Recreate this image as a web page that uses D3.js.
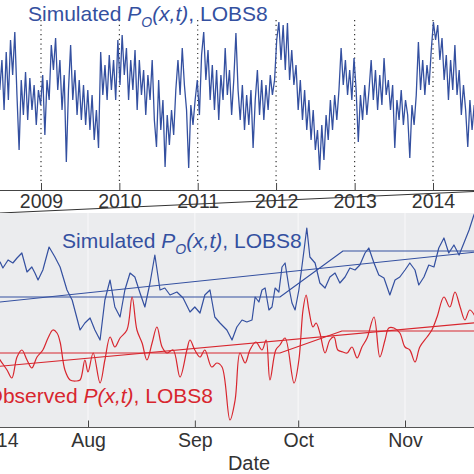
<!DOCTYPE html>
<html><head><meta charset="utf-8">
<script src="https://cdn.jsdelivr.net/npm/d3@7"></script>
<style>html,body{margin:0;padding:0;background:#fff;overflow:hidden}svg{display:block;font-family:"Liberation Sans",Arial,Helvetica,sans-serif}</style>
</head><body><svg id="c" width="474" height="474"></svg>
<script>
// ---------- top panel data (simulated P_O, ~10-day samples) ----------
const topStart = "2008-06-23";
const topStepDays = 10;
const topValues = [100,130,80,138,90,150,115,158,95,40,
110,75,118,70,112,80,105,65,100,85,
115,55,110,90,145,120,152,100,130,80,
115,28,100,145,90,120,75,110,70,105,
65,100,60,95,50,80,42,138,95,125,
90,135,100,130,90,150,105,155,115,142,
90,130,100,140,80,130,95,120,75,115,
90,130,70,43,110,60,90,23,75,45,
80,55,100,130,95,142,105,80,22,85,
65,90,110,75,135,158,110,140,90,125,
80,120,70,115,90,142,95,120,75,110,
157,100,70,105,60,95,65,100,42,90,
120,75,110,70,105,80,115,95,110,150,
168,130,165,120,167,110,140,105,125,80,
110,70,100,60,90,50,80,40,60,20,
65,30,75,50,90,60,95,70,100,142,
105,130,95,120,90,132,100,48,95,70,
105,75,100,130,90,120,80,115,85,132,
95,110,80,105,42,90,70,100,65,90,
75,32,85,65,95,148,100,130,95,125,
105,140,168,150,165,130,152,110,135,90,
130,100,145,95,120,75,105,80,43,90,
60,85];
const yearTicks = [2009,2010,2011,2012,2013,2014];

// ---------- bottom panel data (days since 2014-07-01) ----------
const monthTicks = ["2014-07-01","2014-08-01","2014-09-01","2014-10-01","2014-11-01"];
const monthLabels = ["Jul 2014","Aug","Sep","Oct","Nov"];
const blueDays = [4.5,5.5,6.3,7.8,9.2,10.4,11.8,13.3,14.7,15.6,16.5,17.9,19.7,21.4,22.9,24.9,26.4,28.7,30.1,31.6,33.0,34.5,35.9,37.4,38.8,40.3,41.7,43.2,44.6,46.1,47.5,49.0,50.4,51.9,53.3,54.8,56.8,58.6,60.6,62.0,63.5,64.9,66.4,67.8,69.3,71.3,72.8,74.2,75.7,77.1,78.6,79.5,80.6,81.5,82.4,83.5,84.4,85.3,86.4,87.3,88.2,89.3,90.2,91.1,92.2,93.7,94.5,95.4,96.9,98.3,99.8,101.2,102.7,104.1,105.6,107.0,108.5,109.9,111.4,112.5,114.0,115.4,116.9,118.6,120.1,121.5,123.0,124.4,125.9,127.0,128.5,129.9,131.4,132.8,134.3,135.7,137.2,138.7,140.1,141.6,143.0,144.0];
const blueVals = [158,166,160,168,165,170,175,156,161,155,148,158,181,171,161,138,128,98,105,110,98,88,128,148,121,111,138,155,151,135,121,145,173,138,140,133,136,130,116,121,115,133,138,111,105,98,88,101,108,106,108,131,126,138,140,118,121,140,136,161,165,141,125,118,138,178,200,171,165,145,140,151,155,145,151,160,158,163,175,180,165,153,150,133,148,151,158,165,158,143,151,163,161,180,190,175,183,173,185,198,213,220];
const redDays = [4.6,5.5,7.5,8.9,10.4,11.8,13.3,14.7,16.2,17.9,19.4,20.8,22.0,22.9,24.3,25.8,27.5,28.7,30.1,31.0,32.5,34.5,35.9,37.4,38.8,40.3,42.3,43.8,45.2,46.7,48.1,49.6,51.0,52.5,53.9,55.7,57.7,59.7,60.6,62.0,63.5,64.9,66.9,68.4,69.9,72.2,73.7,75.1,76.6,78.0,79.7,81.5,82.7,83.8,85.5,86.7,88.2,90.8,92.2,93.4,94.3,95.1,96.3,97.2,98.3,99.8,101.2,102.4,103.5,105.0,106.2,107.6,109.1,110.5,112.0,114.0,115.7,117.2,118.3,119.8,121.5,123.0,124.4,125.9,127.3,129.4,130.8,132.3,134.3,136.0,137.5,139.0,140.4,141.8,143.6];
const redVals = [73,68,58,50,71,78,68,60,71,78,90,98,95,86,58,48,47,48,68,56,75,45,68,91,81,90,98,131,98,85,68,85,101,81,75,78,51,78,88,78,71,78,61,65,61,8,28,75,65,78,86,78,88,48,78,83,90,45,68,118,133,118,101,105,95,75,88,91,78,76,75,81,70,81,90,111,71,88,100,100,95,81,78,66,81,91,98,111,131,121,136,121,108,118,110];
const blueTrendDays = [0,152], blueTrendVals = [124,179];
const blueBreakDays = [0,86.7,105,152], blueBreakVals = [131,131,177,177];
const redTrendDays = [0,152], redTrendVals = [60,108];
const redBreakDays = [0,86.7,104.7,152], redBreakVals = [75,75,97,97];

// ---------- drawing ----------
const W = 474, H = 474;
const BLUE = "#3450a0", RED = "#d8262e", TXT = "#333";
const svg = d3.select("#c");
const parse = d3.timeParse("%Y-%m-%d");
const jul1 = parse("2014-07-01");
const dayToDate = d => new Date(jul1.getTime() + d * 864e5);

// top scales
const xTop = d3.scaleTime().domain([new Date(2009,0,1), new Date(2014,0,1)]).range([41, 433]);
const yTop = d3.scaleLinear().domain([0,170]).range([190,20]);
const t0 = parse(topStart);
const topData = topValues.map((v,i) => ({t: d3.timeDay.offset(t0, i*topStepDays), v}));

// dotted year lines
svg.append("g").selectAll("line").data(yearTicks).join("line")
  .attr("x1", d => xTop(new Date(d,0,1))).attr("x2", d => xTop(new Date(d,0,1)))
  .attr("y1", 20).attr("y2", 183)
  .attr("stroke", "#222").attr("stroke-width", 1.1).attr("stroke-dasharray", "1.2,3.5");

svg.append("defs").append("clipPath").attr("id","clipTop")
  .append("rect").attr("x",0).attr("y",0).attr("width",W).attr("height",190);
svg.append("path").datum(topData).attr("clip-path","url(#clipTop)")
  .attr("fill","none").attr("stroke", BLUE).attr("stroke-width", 1.3).attr("stroke-linejoin","miter")
  .attr("d", d3.line().x(d => xTop(d.t)).y(d => yTop(d.v)));

// top axis
const axTop = svg.append("g").attr("transform","translate(0,190)")
  .call(d3.axisBottom(xTop).tickValues(yearTicks.map(y => new Date(y,0,1)))
    .tickFormat(d3.timeFormat("%Y")).tickSize(-7).tickPadding(4));
axTop.select(".domain").remove();
axTop.selectAll(".tick line").attr("stroke","#444");
axTop.selectAll("text").attr("font-size","19.5px").attr("fill",TXT).attr("font-family","Liberation Sans, Arial, sans-serif");
svg.append("line").attr("x1",0).attr("x2",W).attr("y1",190.5).attr("y2",190.5).attr("stroke","#444").attr("stroke-width",1);

// title helper
function title(g, x, y, color, pre, sym, sub, post, anchor) {
  const t = g.append("text").attr("x", x).attr("y", y).attr("fill", color)
    .attr("font-size", "21px").attr("text-anchor", anchor || "start");
  t.append("tspan").text(pre);
  t.append("tspan").attr("font-style","italic").text(sym);
  if (sub) t.append("tspan").attr("font-style","italic").attr("font-size","14px").attr("dy", 6).text(sub);
  t.append("tspan").attr("font-style","italic").attr("dy", sub ? -6 : 0).text("(x,t)");
  t.append("tspan").text(post);
}
title(svg, 28, 21, BLUE, "Simulated ", "P", "O", ", LOBS8");

// zoom connector
svg.append("line").attr("x1",0).attr("y1",213).attr("x2",W).attr("y2",191.5)
  .attr("stroke","#333").attr("stroke-width",1);

// bottom panel
const xB = d3.scaleTime().domain([parse("2014-08-01"), parse("2014-11-01")]).range([88, 405]);
const yB = d3.scaleLinear().domain([0,215]).range([428,213]);
const gB = svg.append("g");
gB.append("rect").attr("x",0).attr("y",213).attr("width",W).attr("height",214.5).attr("fill","#ebecee");
gB.append("g").selectAll("line").data(monthTicks).join("line")
  .attr("x1", d => xB(parse(d))).attr("x2", d => xB(parse(d)))
  .attr("y1", 213).attr("y2", 427).attr("stroke","#f7f7f8").attr("stroke-width",1.2);

svg.select("defs").append("clipPath").attr("id","clipB")
  .append("rect").attr("x",0).attr("y",213).attr("width",W).attr("height",214.5);
const plotB = gB.append("g").attr("clip-path","url(#clipB)");
const ln = d3.line().x(d => xB(dayToDate(d[0]))).y(d => yB(d[1]));
function drawLine(days, vals, color, w, curve) {
  plotB.append("path").datum(d3.zip(days, vals)).attr("fill","none")
    .attr("stroke", color).attr("stroke-width", w).attr("stroke-linejoin","round")
    .attr("d", ln.curve(curve || d3.curveLinear));
}
drawLine(blueTrendDays, blueTrendVals, BLUE, 1.1);
drawLine(blueBreakDays, blueBreakVals, BLUE, 1.1);
drawLine(redTrendDays, redTrendVals, RED, 1.1);
drawLine(redBreakDays, redBreakVals, RED, 1.1);
drawLine(redDays, redVals, RED, 1.2, d3.curveCatmullRom.alpha(0.5));
drawLine(blueDays, blueVals, BLUE, 1.2);

title(svg, 62, 248, BLUE, "Simulated ", "P", "O", ", LOBS8");
title(svg, 213, 403, RED, "Observed ", "P", null, ", LOBS8", "end");

// bottom axis
const axB = svg.append("g").attr("transform","translate(0,427.5)")
  .call(d3.axisBottom(xB).tickValues(monthTicks.map(parse))
    .tickFormat((d,i) => monthLabels[i]).tickSize(-7).tickPadding(6));
axB.select(".domain").remove();
axB.selectAll(".tick line").attr("stroke","#444");
axB.selectAll("text").attr("font-size","19.5px").attr("fill",TXT).attr("font-family","Liberation Sans, Arial, sans-serif");
svg.append("line").attr("x1",0).attr("x2",W).attr("y1",427.5).attr("y2",427.5).attr("stroke","#555").attr("stroke-width",1);

svg.append("text").attr("x",249).attr("y",470).attr("text-anchor","middle")
  .attr("font-size","20px").attr("fill",TXT).text("Date");
</script></body></html>
